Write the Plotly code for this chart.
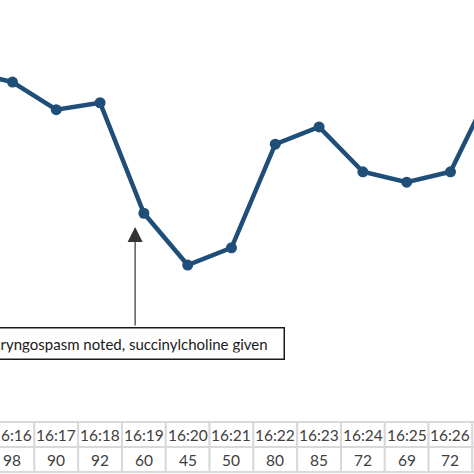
import plotly.graph_objects as go

# ---- data ----
times = ["16:15", "16:16", "16:17", "16:18", "16:19", "16:20", "16:21",
         "16:22", "16:23", "16:24", "16:25", "16:26", "16:27"]
values = [101, 98, 90, 92, 60, 45, 50, 80, 85, 72, 69, 72, 98]
note_text = "Laryngospasm noted, succinylcholine given"
note_at = 3.8  # x index (between 16:18 and 16:19) where the arrow points

W = H = 474
LINE = "#1F4E79"
GRID = "#D9D9D9"
TXT = "#404040"
FONT = "Lato"

xs = list(range(len(times)))

fig = go.Figure()
fig.add_trace(go.Scatter(
    x=xs, y=values, mode="lines+markers",
    line=dict(color=LINE, width=4.5),
    marker=dict(color=LINE, size=11),
    hoverinfo="skip", showlegend=False,
))

def py(p):
    return 1 - p / H

row_top, row_mid, row_bot = py(422), py(447), py(472)

shapes = []
annotations = []
for i, (t, v) in enumerate(zip(times, values)):
    for (y0, y1, txt) in ((row_mid, row_top, t), (row_bot, row_mid, str(v))):
        shapes.append(dict(type="rect", xref="x", yref="paper",
                           x0=i - 0.5, x1=i + 0.5, y0=y0, y1=y1,
                           line=dict(color=GRID, width=2), fillcolor="white",
                           layer="above"))
        annotations.append(dict(x=i, y=(y0 + y1) / 2, xref="x", yref="paper",
                                text=txt, showarrow=False,
                                font=dict(family=FONT, size=15.5, color=TXT),
                                xanchor="center", yanchor="middle"))

annotations.append(dict(
    x=285 / W, y=py(343.5), xref="paper", yref="paper",
    xanchor="right", yanchor="middle", text=note_text, showarrow=False,
    font=dict(family=FONT, size=15, color="#1a1a1a"),
    bordercolor="#1a1a1a", borderwidth=1.5, borderpad=6,
    bgcolor="white", width=302, align="center",
))
annotations.append(dict(
    x=note_at, y=py(227), xref="x", yref="paper", text="",
    showarrow=True, ax=0, ay=100, arrowhead=2, arrowsize=2.5,
    arrowwidth=1.2, arrowcolor="#333333",
))

fig.update_layout(
    width=W, height=H, margin=dict(l=0, r=0, t=0, b=0),
    paper_bgcolor="white", plot_bgcolor="white",
    xaxis=dict(range=[0.715, 11.537], visible=False, fixedrange=True),
    yaxis=dict(range=[-15.5, 121.75], visible=False, fixedrange=True),
    shapes=shapes, annotations=annotations,
)
fig.write_html("out.html")
